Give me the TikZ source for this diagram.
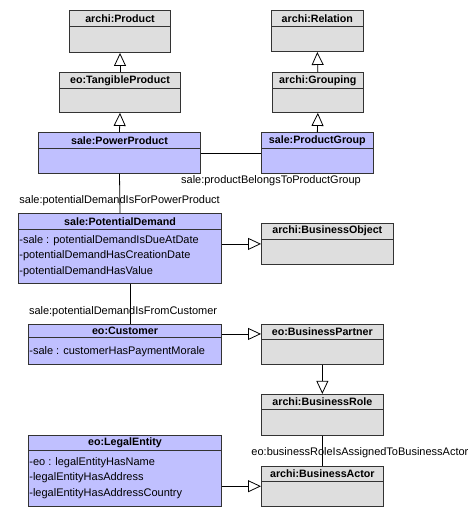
\documentclass[tikz,border=0pt]{standalone}
\usepackage{fontspec}
\setmainfont{Liberation Sans}
\usetikzlibrary{arrows.meta}
\definecolor{umlgray}{RGB}{222,222,222}
\definecolor{umlblue}{RGB}{192,192,255}

\begin{document}
\begin{tikzpicture}[x=1pt,y=-1pt,
  cls/.style={draw=black!80, line width=0.8pt, anchor=north west, inner sep=0pt},
  greycls/.style={cls, fill=umlgray},
  bluecls/.style={cls, fill=umlblue},
  hdr/.style={draw=black!80, line width=0.8pt, anchor=north, minimum height=15.5pt, inner sep=0pt, font=\fontsize{10.7}{12}\selectfont\bfseries},
  attr/.style={anchor=north west, align=left, inner sep=1pt, font=\fontsize{11}{15.5}\selectfont},
  lbl/.style={inner sep=0pt, font=\fontsize{11}{12}\selectfont},
  gen/.style={-{Triangle[open, length=13pt, width=12pt]}, line width=0.8pt},
  assoc/.style={line width=0.8pt}
]

\draw[white] (0,0)--(0,0);
\draw[white] (474,511)--(474,511);

\node[greycls, minimum width=101pt, minimum height=42pt] (product) at (69,10) {};
\node[hdr, fill=umlgray, minimum width=101pt] (productH) at (product.north) {archi:Product};
\node[greycls, minimum width=121pt, minimum height=40pt] (tangible) at (59,72) {};
\node[hdr, fill=umlgray, minimum width=121pt] (tangibleH) at (tangible.north) {eo:TangibleProduct};
\node[bluecls, minimum width=162pt, minimum height=41pt] (power) at (38,132) {};
\node[hdr, fill=umlblue, minimum width=162pt] (powerH) at (power.north) {sale:PowerProduct};

\node[greycls, minimum width=92pt, minimum height=41pt] (relation) at (271,10) {};
\node[hdr, fill=umlgray, minimum width=92pt] (relationH) at (relation.north) {archi:Relation};
\node[greycls, minimum width=91pt, minimum height=40pt] (grouping) at (272,72) {};
\node[hdr, fill=umlgray, minimum width=91pt] (groupingH) at (grouping.north) {archi:Grouping};
\node[bluecls, minimum width=112pt, minimum height=41pt] (group) at (261,132) {};
\node[hdr, fill=umlblue, minimum width=112pt] (groupH) at (group.north) {sale:ProductGroup};

\node[bluecls, minimum width=203pt, minimum height=70pt] (demand) at (18,213) {};
\node[hdr, fill=umlblue, minimum width=203pt] (demandH) at (demand.north) {sale:PotentialDemand};
\node[attr] (demandA) at ([yshift=-5pt]demandH.south west) {-sale : potentialDemandIsDueAtDate\\-potentialDemandHasCreationDate\\-potentialDemandHasValue};
\node[greycls, minimum width=132pt, minimum height=41pt] (busobj) at (261,223) {};
\node[hdr, fill=umlgray, minimum width=132pt] (busobjH) at (busobj.north) {archi:BusinessObject};

\node[bluecls, minimum width=193pt, minimum height=40pt] (customer) at (28,324) {};
\node[hdr, fill=umlblue, minimum width=193pt, minimum height=13pt] (customerH) at (customer.north) {eo:Customer};
\node[attr] (customerA) at ([yshift=-8pt]customerH.south west) {-sale : customerHasPaymentMorale};
\node[greycls, minimum width=122pt, minimum height=40pt] (partner) at (261,324) {};
\node[hdr, fill=umlgray, minimum width=122pt] (partnerH) at (partner.north) {eo:BusinessPartner};

\node[greycls, minimum width=122pt, minimum height=41pt] (role) at (261,394) {};
\node[hdr, fill=umlgray, minimum width=122pt] (roleH) at (role.north) {archi:BusinessRole};
\node[greycls, minimum width=122pt, minimum height=40pt] (actor) at (261,466) {};
\node[hdr, fill=umlgray, minimum width=122pt] (actorH) at (actor.north) {archi:BusinessActor};

\node[bluecls, minimum width=193pt, minimum height=71pt] (legal) at (28,435) {};
\node[hdr, fill=umlblue, minimum width=193pt] (legalH) at (legal.north) {eo:LegalEntity};
\node[attr] (legalA) at ([yshift=-5pt]legalH.south west) {-eo : legalEntityHasName\\-legalEntityHasAddress\\-legalEntityHasAddressCountry};

\draw[gen] (tangible.north) -- (product.south);
\draw[gen] (power.north) -- (tangible.south);
\draw[gen] (grouping.north) -- (relation.south);
\draw[gen] (group.north) -- (grouping.south);
\draw[assoc] (power.east) -- (group.west);
\draw[assoc] (power.south) -- (demand.north);
\draw[gen] (demand.east |- busobj.west) -- (busobj.west);
\draw[assoc] ([xshift=10pt]demand.south) -- ([xshift=10pt]demand.south |- customer.north);
\draw[gen] ([yshift=-10pt]customer.north east) -- ([yshift=-10pt]partner.north west);
\draw[gen] (partner.south) -- (role.north);
\draw[assoc] (role.south) -- (actor.north);
\draw[gen] (legal.east |- actor.west) -- (actor.west);

\node[lbl] (belongs) at (271,181) {sale:productBelongsToProductGroup};
\node[lbl] (forpower) at (119.5,201) {sale:potentialDemandIsForPowerProduct};
\node[lbl] (fromcust) at (123,312) {sale:potentialDemandIsFromCustomer};
\node[lbl] (assigned) at (360,453) {eo:businessRoleIsAssignedToBusinessActor};

\end{tikzpicture}
\end{document}
